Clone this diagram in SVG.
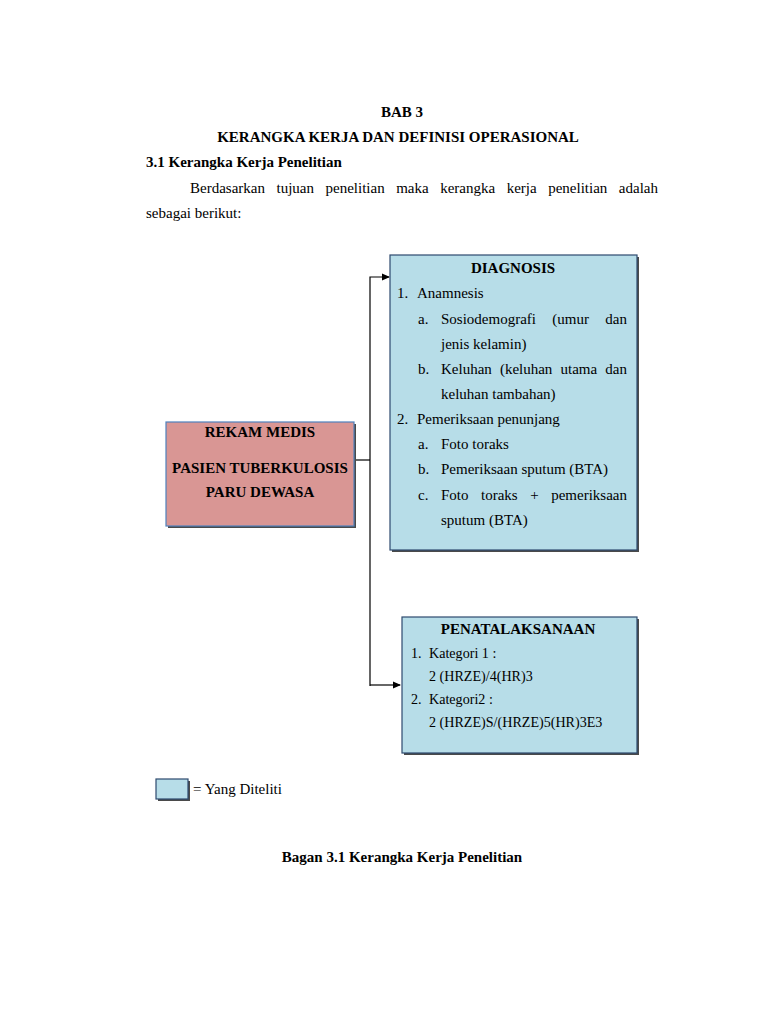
<svg xmlns="http://www.w3.org/2000/svg" width="768" height="1024" viewBox="0 0 768 1024">
<defs>
<marker id="arr" markerWidth="8" markerHeight="8" refX="7" refY="4" orient="auto" markerUnits="userSpaceOnUse">
<path d="M0,0.5 L8,4 L0,7.5 Z" fill="#000"/>
</marker>
</defs>
<style>
text{font-family:"Liberation Serif","Times New Roman",serif;fill:#000;font-size:15px}
.b{font-weight:bold}
.c{text-anchor:middle}
.e{text-anchor:end}
.blue{fill:#b7dde8;stroke:#2e4a6e;stroke-width:1.2}
.red{fill:#d99694;stroke:#4f81bd;stroke-width:1.2}
.sh{fill:#4a4a4a}
.ln{fill:none;stroke:#000;stroke-width:1.2}
.p{font-size:14.1px}
</style>
<rect width="768" height="1024" fill="#fff"/>
<g id="header">
<text class="b c" x="402" y="117">BAB 3</text>
<text class="b c" x="398" y="142" font-size="15.2">KERANGKA KERJA DAN DEFINISI OPERASIONAL</text>
<text class="b" x="146" y="167">3.1 Kerangka Kerja Penelitian</text>
<text x="190" y="193">Berdasarkan</text>
<text x="276.5" y="193">tujuan</text>
<text x="325.5" y="193">penelitian</text>
<text x="396.2" y="193">maka</text>
<text x="440.2" y="193">kerangka</text>
<text x="506.7" y="193">kerja</text>
<text x="548.2" y="193">penelitian</text>
<text class="e" x="658" y="193">adalah</text>
<text x="146" y="218">sebagai berikut:</text>
</g>
<g id="connectors">
<path class="ln" d="M354,460 H370"/>
<path class="ln" d="M370,686 V277 H389" marker-end="url(#arr)"/>
<path class="ln" d="M370,685 H400" marker-end="url(#arr)"/>
</g>
<g id="rekam-medis">
<rect class="sh" x="168" y="424" width="188" height="104"/>
<rect class="red" x="166" y="422" width="188" height="104"/>
<text class="b c" x="260" y="437" font-size="14">REKAM MEDIS</text>
<text class="b c" x="260" y="473" font-size="14">PASIEN TUBERKULOSIS</text>
<text class="b c" x="260" y="497" font-size="14">PARU DEWASA</text>
</g>
<g id="diagnosis">
<rect class="sh" x="392" y="257" width="247" height="295"/>
<rect class="blue" x="390" y="255" width="247" height="295"/>
<text class="b c" x="513" y="273">DIAGNOSIS</text>
<text x="397" y="298">1.</text><text x="417" y="298">Anamnesis</text>
<text x="418" y="324">a.</text>
<text x="441" y="324">Sosiodemografi</text><text x="552.3" y="324">(umur</text><text class="e" x="627" y="324">dan</text>
<text x="441" y="349">jenis kelamin)</text>
<text x="418" y="374">b.</text>
<text x="441" y="374">Keluhan</text><text x="499.9" y="374">(keluhan</text><text x="560.5" y="374">utama</text><text class="e" x="627" y="374">dan</text>
<text x="441" y="399">keluhan tambahan)</text>
<text x="397" y="424">2.</text><text x="417" y="424">Pemeriksaan penunjang</text>
<text x="418" y="449">a.</text><text x="441" y="449">Foto toraks</text>
<text x="418" y="474">b.</text><text x="441" y="474">Pemeriksaan sputum (BTA)</text>
<text x="418" y="500">c.</text>
<text x="441" y="500">Foto</text><text x="481" y="500">toraks</text><text x="530.2" y="500">+</text><text class="e" x="627" y="500">pemeriksaan</text>
<text x="441" y="525">sputum (BTA)</text>
</g>
<g id="penatalaksanaan">
<rect class="sh" x="404" y="619" width="235" height="136"/>
<rect class="blue" x="402" y="617" width="235" height="136"/>
<text class="b c" x="518" y="634" font-size="15.4">PENATALAKSANAAN</text>
<text class="p" x="411" y="658">1.</text><text class="p" x="429" y="658">Kategori 1 :</text>
<text class="p" x="429" y="681">2 (HRZE)/4(HR)3</text>
<text class="p" x="411" y="704">2.</text><text class="p" x="429" y="704">Kategori2 :</text>
<text class="p" x="429" y="727">2 (HRZE)S/(HRZE)5(HR)3E3</text>
</g>
<g id="legend">
<rect class="sh" x="158" y="781" width="32" height="20"/>
<rect class="blue" x="156" y="779" width="32" height="20"/>
<text x="193" y="794" font-size="14">= Yang Diteliti</text>
</g>
<g id="caption">
<text class="b c" x="402" y="862" font-size="15.4">Bagan 3.1 Kerangka Kerja Penelitian</text>
</g>
</svg>
